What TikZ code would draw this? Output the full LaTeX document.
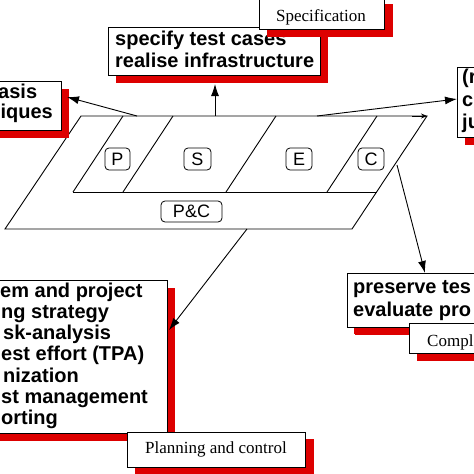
\documentclass[tikz,border=0pt]{standalone}
\usepackage{fontspec}
\setmainfont{Liberation Serif}
\newfontfamily\hv{Liberation Sans}
\usetikzlibrary{shadows,arrows.meta}
\definecolor{shred}{RGB}{221,0,0}
\begin{document}
\begin{tikzpicture}[x=1pt,y=-1pt,
  box/.style={draw=black,line width=1.1pt,fill=white,inner sep=0pt,anchor=north west,
    drop shadow={shadow xshift=7pt,shadow yshift=-7pt,fill=shred,opacity=1}},
  btxt/.style={font=\hv\bfseries\fontsize{20}{22}\selectfont,inner sep=0pt,anchor=base west},
  ttxt/.style={font=\fontsize{17}{19}\selectfont,inner sep=0pt,anchor=base},
  lab/.style={draw,line width=0.8pt,rounded corners=4pt,inner sep=0pt,
    font=\hv\fontsize{18}{18}\selectfont,minimum height=22pt,fill=white},
  edgeline/.style={line width=0.9pt},
  arr/.style={line width=0.9pt,-{Latex[length=12pt,width=8pt]}}]
\useasboundingbox (0,0) rectangle (474,474);
\clip (0,0) rectangle (474,474);

% parallelogram structure
\coordinate (ptl) at (81,116);
\coordinate (ptr) at (427,116);
\coordinate (pbr) at (352,229);
\coordinate (pbl) at (5,229);
\draw[edgeline] (ptl) -- (ptr) -- (pbr) -- (pbl) -- cycle;
\coordinate (ibl) at (73,192);
\coordinate (ibr) at (377,192);
\draw[edgeline] (ibl) -- (ibr);
\draw[edgeline] (ibl) -- (123,116);
\draw[edgeline] (123,192) -- (173,116);
\draw[edgeline] (226,192) -- (276,116);
\draw[edgeline] (327,192) -- (377,116);
\draw[line width=0.7pt,-{Stealth[length=6pt,width=5pt]}] (412,116) -- (ptr);

% labels
\node[lab,minimum width=25pt] (P) at (117.5,159) {P};
\node[lab,minimum width=27pt] (S) at (197.5,159) {S};
\node[lab,minimum width=26pt] (E) at (299,159) {E};
\node[lab,minimum width=26pt] (C) at (371,159) {C};
\node[lab,minimum width=61pt,minimum height=21pt] (PC) at (191.5,211.5) {P\&C};

% boxes
\node[box,minimum width=212pt,minimum height=48pt] (spec) at (108,27) {};
\node[btxt] (spec1) at (115,45) {specify test cases};
\node[btxt] (spec2) at (115,67) {realise infrastructure};
\node[box,minimum width=125pt,minimum height=33pt,
  drop shadow={shadow xshift=8pt,shadow yshift=-7pt,fill=shred,opacity=1}] (spectab) at (259,-4) {};
\node[ttxt] (spectabt) at (321,21) {Specification};

\node[box,minimum width=76pt,minimum height=49pt] (prep) at (-15,81) {};
\node[btxt] (prep1) at (-2,98) {asis};
\node[btxt,anchor=base east] (prep2) at (53,118) {iques};

\node[box,minimum width=40pt,minimum height=70pt] (exec) at (457,67) {};
\node[btxt] (exec1) at (462,83) {(r};
\node[btxt] (exec2) at (462,106) {c};
\node[btxt] (exec3) at (462,128) {ju};

\node[box,minimum width=150pt,minimum height=54pt,
  drop shadow={shadow xshift=6pt,shadow yshift=-6pt,fill=shred,opacity=1}] (comp) at (347,273) {};
\node[btxt] (comp1) at (353,293) {preserve tes};
\node[btxt] (comp2) at (353,316) {evaluate pro};
\node[box,minimum width=80pt,minimum height=30pt] (comptab) at (409,323) {};
\node[ttxt,anchor=base west] (comptabt) at (427,346) {Compl};

\node[box,minimum width=182pt,minimum height=153pt,
  drop shadow={shadow xshift=6pt,shadow yshift=-7pt,fill=shred,opacity=1}] (plan) at (-15,280) {};
\node[btxt] (plan1) at (0,297) {em and project};
\node[btxt] (plan2) at (1,318.3) {ng strategy};
\node[btxt] (plan3) at (3,339.6) {sk-analysis};
\node[btxt] (plan4) at (1,360.9) {est effort (TPA)};
\node[btxt] (plan5) at (3,382.2) {nization};
\node[btxt] (plan6) at (1,403.5) {st management};
\node[btxt] (plan7) at (1,424.8) {orting};
\node[box,minimum width=178pt,minimum height=35pt,
  drop shadow={shadow xshift=8pt,shadow yshift=-6pt,fill=shred,opacity=1}] (plantab) at (127,432) {};
\node[ttxt] (plantabt) at (216,453) {Planning and control};

% connectors
\coordinate (sL) at (137,116);
\coordinate (tL) at (67,97);
\coordinate (sT) at (215,116);
\coordinate (tT) at (215,84);
\coordinate (sR) at (317,116);
\coordinate (tR) at (457,99);
\coordinate (sC) at (397,165);
\coordinate (tC) at (425,273);
\coordinate (sP) at (247,229);
\coordinate (tP) at (169,330);
\draw[arr] (sL) -- (tL);
\draw[arr] (sT) -- (tT);
\draw[arr] (sR) -- (tR);
\draw[arr] (sC) -- (tC);
\draw[arr] (sP) -- (tP);
\end{tikzpicture}
\end{document}
